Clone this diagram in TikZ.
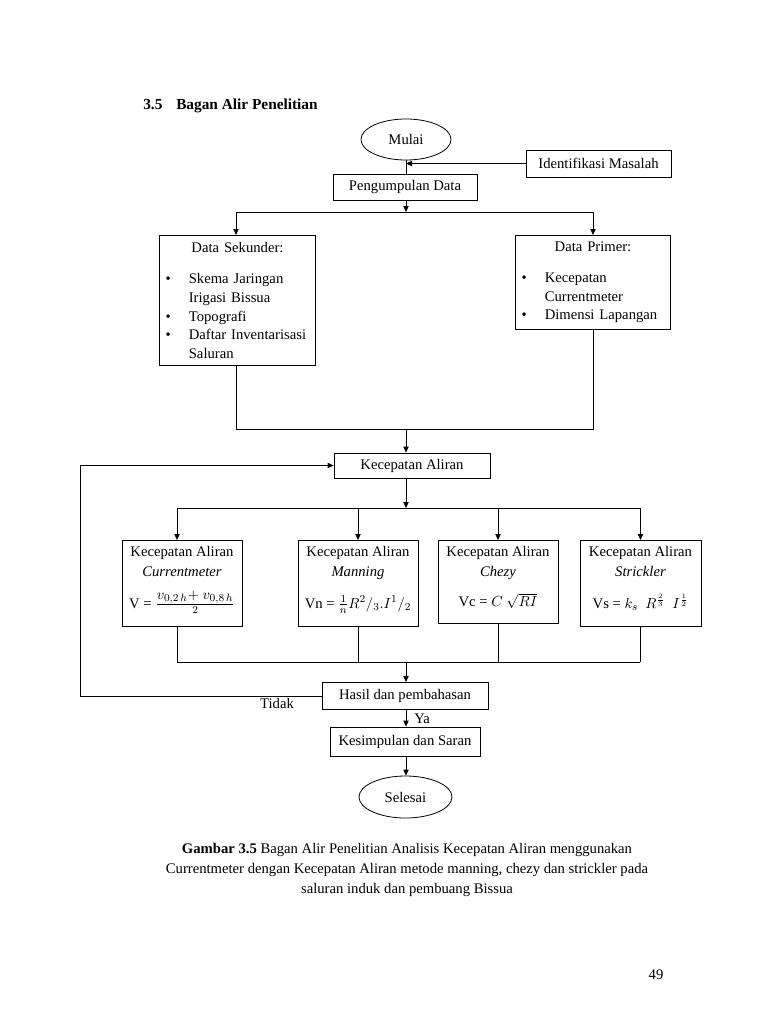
\documentclass[tikz,border=0pt]{standalone}
\usepackage{amsmath}
\usepackage{fontspec}
\setmainfont{Liberation Serif}
\usetikzlibrary{arrows.meta,shapes.geometric}
\newcommand{\fsz}{\fontsize{11}{13.9}\selectfont}
\newcommand{\bitem}[2]{\par\noindent\hangindent=#1\hangafter=1\makebox[#1][l]{\hspace{4.5pt}\textbullet}#2}
\begin{document}
\begin{tikzpicture}[x=0.75pt,y=-0.75pt,
  box/.style={draw,line width=0.6pt,rectangle,inner sep=1pt,font=\fsz,align=center},
  listbox/.style={draw,line width=0.6pt,rectangle,inner xsep=0pt,inner ysep=3pt,font=\fsz,anchor=north},
  fbox/.style={draw,line width=0.6pt,rectangle,inner sep=0pt,anchor=north},
  ftext/.style={inner sep=0pt,font=\fsz,align=center,anchor=north},
  oval/.style={draw,line width=0.6pt,ellipse,inner sep=0pt,font=\fsz},
  ln/.style={line width=0.6pt},
  arr/.style={line width=0.6pt,-{Triangle[length=4.5pt,width=4pt]}},
  lbl/.style={font=\fsz,inner sep=0pt}
]
\useasboundingbox (0,0) rectangle (768,1024);
\fill[white] (0,0) rectangle (768,1024);
\coordinate (ax) at (406,0);
\coordinate (loopL) at (80,0);

% heading
\node[lbl,anchor=base west,font=\fontsize{11.5}{14}\selectfont\bfseries] (secno) at (143,109) {3.5};
\node[lbl,anchor=base west,font=\fontsize{11.5}{14}\selectfont\bfseries] (sectitle) at (176,109) {Bagan Alir Penelitian};

% top
\node[oval,minimum width=67.5pt,minimum height=30.75pt] (mulai) at (406,139.5) {Mulai};
\node[box,minimum width=108.75pt,minimum height=20.25pt] (ident) at (598.5,163.5) {Identifikasi Masalah};
\node[box,minimum width=108pt,minimum height=19.5pt] (kumpul) at (405,187) {Pengumpulan Data};
\draw[ln] (mulai.south) -- (mulai.south |- kumpul.north);
\draw[arr] (ident.west) -- (mulai.south |- ident.west);

% data boxes
\node[listbox,text width=117pt,minimum height=97.5pt] (sek) at (237.5,235)
  {{\centering Data Sekunder:\par}\vspace{9.5pt}\raggedright
   \bitem{22pt}{Skema Jaringan\newline Irigasi Bissua}
   \bitem{22pt}{Topografi}
   \bitem{22pt}{Daftar Inventarisasi\newline Saluran}\par};
\node[listbox,text width=116.25pt,minimum height=70.5pt] (prim) at (593,235)
  {{\centering Data Primer:\par}\vspace{9.5pt}\raggedright
   \bitem{22pt}{Kecepatan\newline Currentmeter}
   \bitem{22pt}{Dimensi Lapangan}\par};
\coordinate (f1) at (406,212);
\draw[arr] (ax |- kumpul.south) -- (f1);
\draw[ln] (236,212) -- (593,212);
\draw[arr] (236,212) -- (236,235);
\draw[arr] (593,212) -- (593,235);

% join
\coordinate (j2) at (406,429);
\draw[ln] (236,365) -- (236,429) -- (593,429) -- (593,329);
\node[box,minimum width=117pt,minimum height=18.75pt] (kec) at (412,465.5) {Kecepatan Aliran};
\draw[arr] (j2) -- (j2 |- kec.north);

% fork to four methods
\coordinate (f2) at (406,508);
\draw[arr] (ax |- kec.south) -- (f2);
\draw[ln] (177,508) -- (640,508);
\node[fbox,minimum width=90pt,minimum height=64.5pt] (cm) at (182,540) {};
\node[fbox,minimum width=90pt,minimum height=64.5pt] (mn) at (358,540) {};
\node[fbox,minimum width=90pt,minimum height=62.25pt] (cz) at (498,540) {};
\node[fbox,minimum width=90.75pt,minimum height=64.5pt] (st) at (640.5,540) {};
\node[ftext] (cmtxt) at ([yshift=-4.5pt]cm.north)
  {Kecepatan Aliran\\[1pt]\textit{Currentmeter}\\[10pt]V = $\frac{\textstyle v_{0,2\,h}{+}\ v_{0,8\,h}}{2}$};
\node[ftext] (mntxt) at ([yshift=-4.5pt]mn.north)
  {Kecepatan Aliran\\[1pt]\textit{Manning}\\[10pt]Vn = $\frac{1}{n}R^{2}{/}_{3}.I^{1}{/}_{2}$};
\node[ftext] (cztxt) at ([yshift=-4.5pt]cz.north)
  {Kecepatan Aliran\\[1pt]\textit{Chezy}\\[9pt]Vc = $C\ \sqrt{RI}$};
\node[ftext] (sttxt) at ([yshift=-4.5pt]st.north)
  {Kecepatan Aliran\\[1pt]\textit{Strickler}\\[10pt]Vs = $k_s\ \ R^{\frac{2}{3}}\ \ I^{\frac{1}{2}}$};
\draw[arr] (177,508) -- (177,540);
\draw[arr] (mn.north |- f2) -- (mn.north);
\draw[arr] (cz.north |- f2) -- (cz.north);
\draw[arr] (st.north |- f2) -- (st.north);

% join below
\coordinate (j3) at (406,662);
\draw[ln] (177,626) -- (177,662) -- (640,662);
\draw[ln] (mn.south) -- (mn.south |- j3);
\draw[ln] (cz.south) -- (cz.south |- j3);
\draw[ln] (st.south) -- (st.south |- j3);
\node[box,minimum width=124.5pt,minimum height=20.5pt] (hasil) at (405,696) {Hasil dan pembahasan};
\draw[arr] (j3) -- (ax |- hasil.north);

% loop back
\draw[arr] (hasil.west) -- (hasil.west -| loopL) -- (loopL |- kec.west) -- (kec.west);
\node[lbl] (tidak) at (277,703) {Tidak};

% end
\node[box,minimum width=112.5pt,minimum height=21.75pt] (simpul) at (405,741.5) {Kesimpulan dan Saran};
\draw[arr] (ax |- hasil.south) -- (ax |- simpul.north);
\node[lbl,anchor=west] (ya) at (414,719) {Ya};
\node[oval,minimum width=69.75pt,minimum height=31.5pt] (selesai) at (405.5,797) {Selesai};
\draw[arr] (ax |- simpul.south) -- (ax |- selesai.north);

% caption
\node[lbl,align=center,font=\fontsize{11}{15}\selectfont] (cap) at (407,870)
  {\textbf{Gambar 3.5} Bagan Alir Penelitian Analisis Kecepatan Aliran menggunakan\\
   Currentmeter dengan Kecepatan Aliran metode manning, chezy dan strickler pada\\
   saluran induk dan pembuang Bissua};
\node[lbl] (page) at (656,975) {49};
\end{tikzpicture}
\end{document}
